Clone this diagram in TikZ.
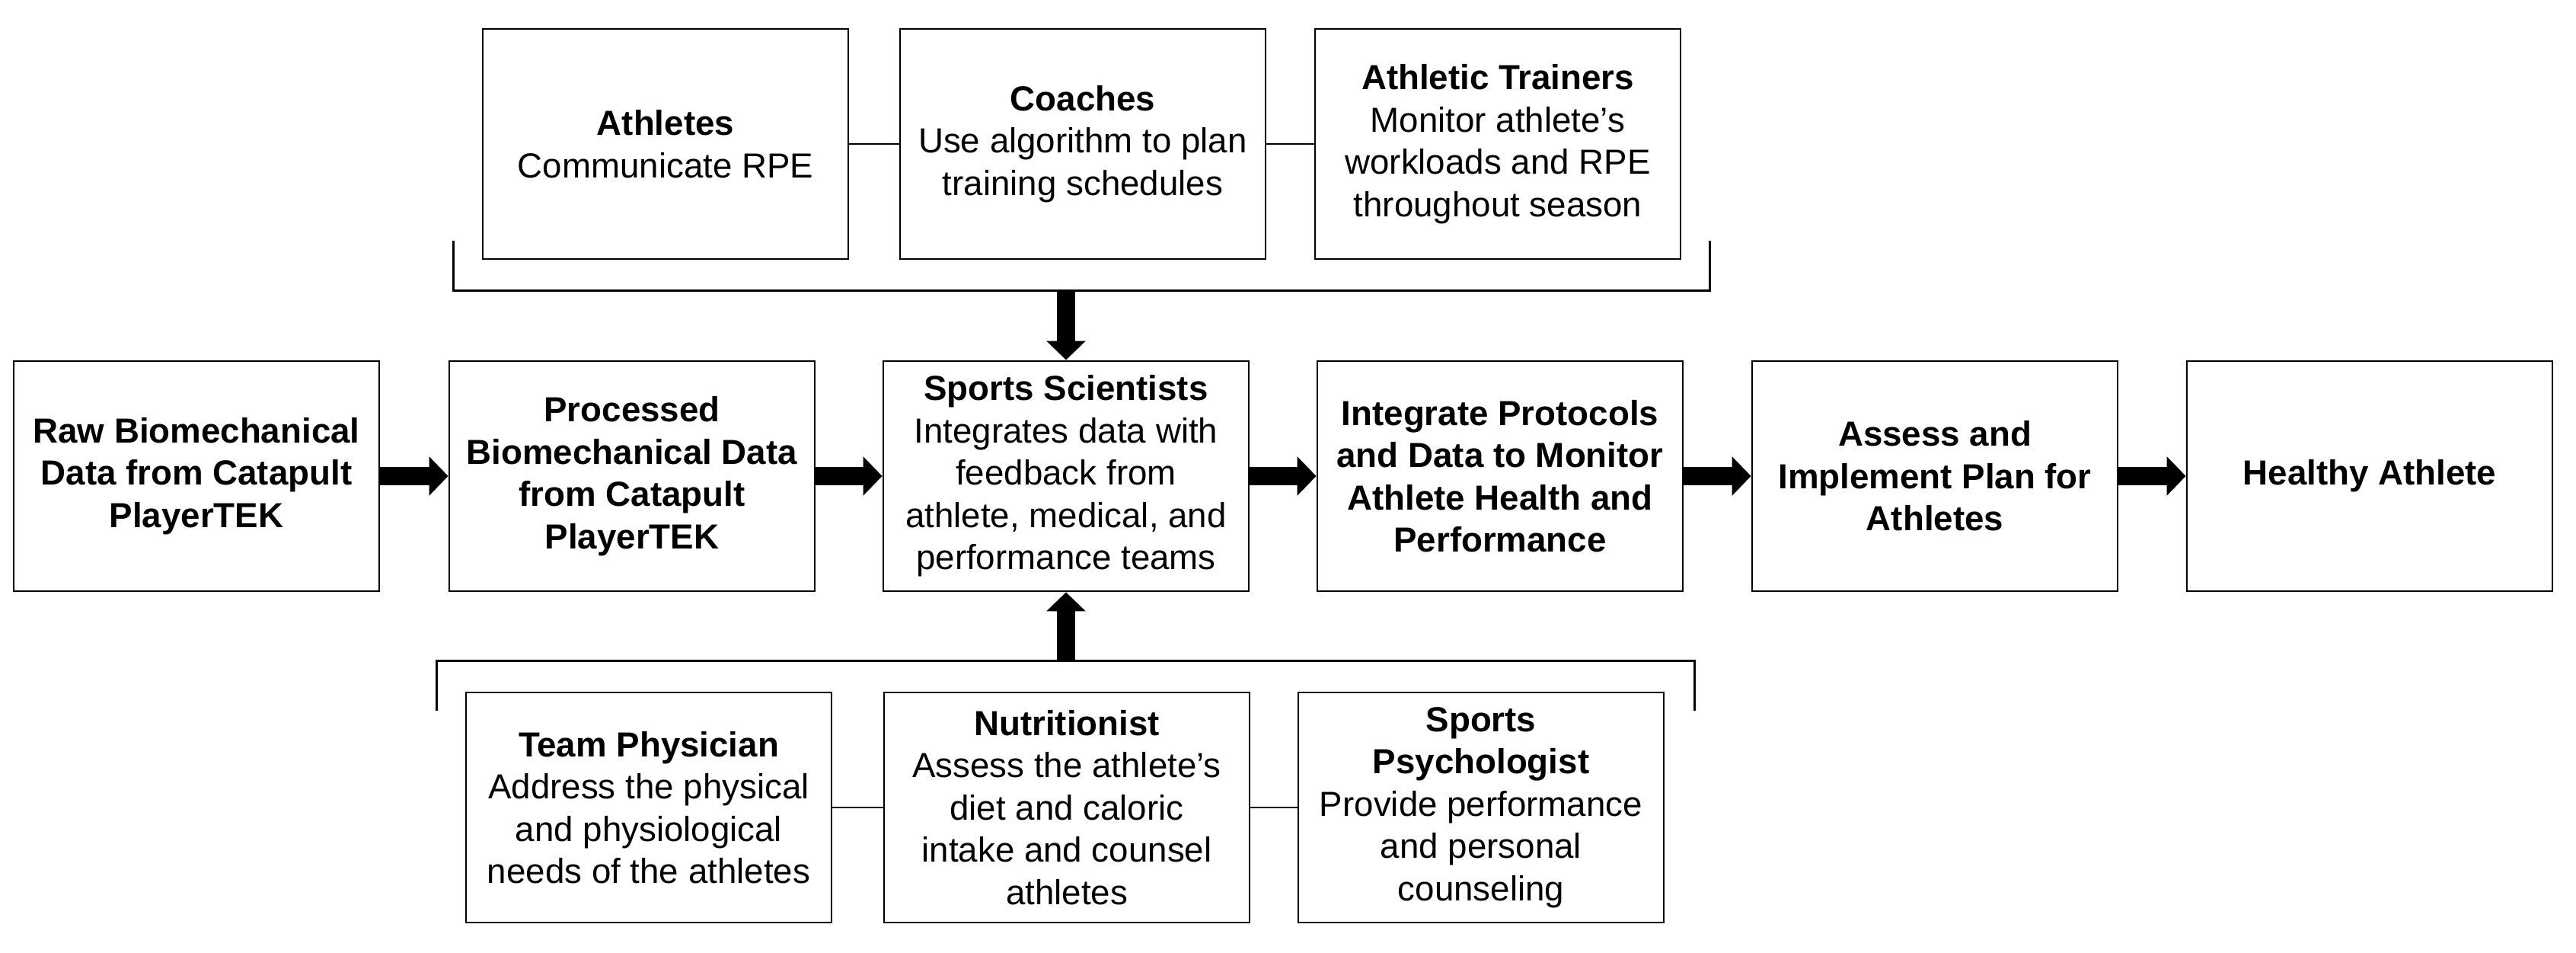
\documentclass[tikz,border=0pt]{standalone}
\usepackage{fontspec}
\setmainfont{Liberation Sans}
\usetikzlibrary{arrows.meta,calc}
\tikzset{
  box/.style={draw, line width=0.8pt, minimum width=4.8cm, minimum height=3.02cm,
    inner sep=2pt, align=center, font=\fontsize{13}{15.8}\selectfont},
  thin/.style={line width=0.8pt},
  blockarrow/.style={line width=2.4mm, -{Triangle[length=2.5mm, width=5mm]}}
}
\begin{document}
\begin{tikzpicture}
    \useasboundingbox (0,0) rectangle (33.83,12.51);
    % middle row
    \node[box] (raw) at (2.58, 6.26) {\textbf{Raw Biomechanical}\\\textbf{Data from Catapult}\\\textbf{PlayerTEK}};
    \node[box] (proc) at (8.30, 6.26) {\textbf{Processed}\\\textbf{Biomechanical Data}\\\textbf{from Catapult}\\\textbf{PlayerTEK}};
    \node[box] (sci) at (14.00, 6.26) {\textbf{Sports Scientists}\\Integrates data with\\feedback from\\athlete, medical, and\\performance teams};
    \node[box] (integ) at (19.70, 6.26) {\textbf{Integrate Protocols}\\\textbf{and Data to Monitor}\\\textbf{Athlete Health and}\\\textbf{Performance}};
    \node[box] (assess) at (25.41, 6.26) {\textbf{Assess and}\\\textbf{Implement Plan for}\\\textbf{Athletes}};
    \node[box] (healthy) at (31.12, 6.26) {\textbf{Healthy Athlete}};
    % top row
    \node[box] (athl) at (8.74, 10.62) {\textbf{Athletes}\\Communicate RPE};
    \node[box] (coach) at (14.22, 10.62) {\textbf{Coaches}\\Use algorithm to plan\\training schedules};
    \node[box] (trainer) at (19.67, 10.62) {\textbf{Athletic Trainers}\\Monitor athlete’s\\workloads and RPE\\throughout season};
    % bottom row
    \node[box] (phys) at (8.52, 1.91) {\textbf{Team Physician}\\Address the physical\\and physiological\\needs of the athletes};
    \node[box] (nutr) at (14.01, 1.91) {\textbf{Nutritionist}\\Assess the athlete’s\\diet and caloric\\intake and counsel\\athletes};
    \node[box] (psych) at (19.45, 1.91) {\textbf{Sports}\\\textbf{Psychologist}\\Provide performance\\and personal\\counseling};
    % thin links
    \draw[thin] (athl) -- (coach);
    \draw[thin] (coach) -- (trainer);
    \draw[thin] (phys) -- (nutr);
    \draw[thin] (nutr) -- (psych);
    % brackets
    \coordinate (topbar) at ($(athl.south west)+(-0.37,-0.40)$);
    \coordinate (botbar) at ($(phys.north west)+(-0.37,0.40)$);
    \draw[thin] ($(athl.south west)+(-0.37,0.25)$) -- (topbar)
      -- ($(trainer.south east)+(0.37,-0.40)$) -- ($(trainer.south east)+(0.37,0.25)$);
    \draw[thin] ($(phys.north west)+(-0.37,-0.25)$) -- (botbar)
      -- ($(psych.north east)+(0.39,0.40)$) -- ($(psych.north east)+(0.39,-0.25)$);
    % block arrows
    \draw[blockarrow] (raw) -- (proc);
    \draw[blockarrow] (proc) -- (sci);
    \draw[blockarrow] (sci) -- (integ);
    \draw[blockarrow] (integ) -- (assess);
    \draw[blockarrow] (assess) -- (healthy);
    \draw[blockarrow] (sci.north |- topbar) -- (sci.north);
    \draw[blockarrow] (sci.south |- botbar) -- (sci.south);
\end{tikzpicture}
\end{document}
